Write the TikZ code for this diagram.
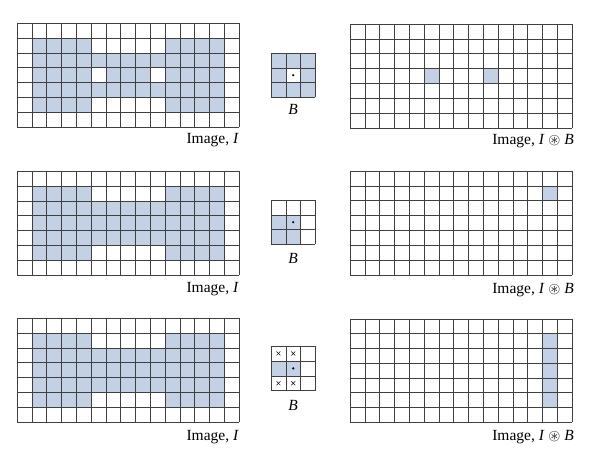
\documentclass[tikz,border=0pt]{standalone}
\usepackage{amssymb}
\usepackage{fontspec}
\setmainfont{Liberation Serif}
\definecolor{sel}{RGB}{196,208,228}
\tikzset{
  gridline/.style={draw=black!75, line width=0.6pt},
  lab/.style={font=\fontsize{15.5}{18}\selectfont, inner sep=0pt},
  cellfill/.style={fill=sel},
  xmark/.style={draw=black, line width=0.5pt},
}
\newcommand\biggrid{%
  \foreach \i in {0,...,15} \draw[gridline] (\i,0) -- (\i,7);
  \foreach \j in {0,...,7} \draw[gridline] (0,\j) -- (15,\j);}
\newcommand\smallgrid{%
  \foreach \i in {0,...,3} \draw[gridline] (\i,0) -- (\i,3);
  \foreach \j in {0,...,3} \draw[gridline] (0,\j) -- (3,\j);}
\newcommand\imageI{%
  \fill[cellfill] (1,1) rectangle (5,2);
  \fill[cellfill] (10,1) rectangle (14,2);
  \fill[cellfill] (1,2) rectangle (14,5);
  \fill[cellfill] (1,5) rectangle (5,6);
  \fill[cellfill] (10,5) rectangle (14,6);}
\newcommand\xcross[2]{%
  \draw[xmark] ({#1+0.5-0.13},{#2+0.5-0.13}) -- ({#1+0.5+0.13},{#2+0.5+0.13});
  \draw[xmark] ({#1+0.5-0.13},{#2+0.5+0.13}) -- ({#1+0.5+0.13},{#2+0.5-0.13});}
\begin{document}
\begin{tikzpicture}[x=1pt,y=-1pt]
\useasboundingbox (0,0) rectangle (600,464);
% ---------- Row 1 ----------
\begin{scope}[shift={(17pt,-23pt)},x=14.8pt,y=-14.9pt]
  \imageI
  \fill[white] (5,3) rectangle (6,4);
  \fill[white] (9,3) rectangle (10,4);
  \biggrid
\end{scope}
\begin{scope}[shift={(271pt,-53pt)},x=14.8pt,y=-14.8pt]
  \fill[cellfill] (0,0) rectangle (3,3);
  \fill[white] (1,1) rectangle (2,2);
  \smallgrid
  \fill[black] (1.5,1.5) circle[radius=1.2pt];
\end{scope}
\begin{scope}[shift={(350pt,-24pt)},x=14.8pt,y=-14.85pt]
  \fill[cellfill] (5,3) rectangle (6,4);
  \fill[cellfill] (9,3) rectangle (10,4);
  \biggrid
\end{scope}
\node[lab, anchor=base east] (l1) at (239,143) {Image, \textit{I}};
\node[lab, anchor=base] (b1) at (293,114) {\textit{B}};
\node[lab, anchor=base east] (r1) at (574,144) {Image, \textit{I} $\circledast$ \textit{B}};
% ---------- Row 2 ----------
\begin{scope}[shift={(17pt,-171pt)},x=14.8pt,y=-14.9pt]
  \imageI
  \biggrid
\end{scope}
\begin{scope}[shift={(271pt,-200pt)},x=14.8pt,y=-14.8pt]
  \fill[cellfill] (0,1) rectangle (2,3);
  \smallgrid
  \fill[black] (1.5,1.5) circle[radius=1.2pt];
\end{scope}
\begin{scope}[shift={(350pt,-171pt)},x=14.8pt,y=-14.85pt]
  \fill[cellfill] (13,1) rectangle (14,2);
  \biggrid
\end{scope}
\node[lab, anchor=base east] (l2) at (239,292.5) {Image, \textit{I}};
\node[lab, anchor=base] (b2) at (293,263) {\textit{B}};
\node[lab, anchor=base east] (r2) at (574,293) {Image, \textit{I} $\circledast$ \textit{B}};
% ---------- Row 3 ----------
\begin{scope}[shift={(17pt,-318pt)},x=14.8pt,y=-14.9pt]
  \imageI
  \biggrid
\end{scope}
\begin{scope}[shift={(271pt,-346pt)},x=14.8pt,y=-14.9pt]
  \fill[cellfill] (0,1) rectangle (2,2);
  \smallgrid
  \fill[black] (1.5,1.5) circle[radius=1.2pt];
  \xcross{0}{0}\xcross{1}{0}\xcross{0}{2}\xcross{1}{2}
\end{scope}
\begin{scope}[shift={(350pt,-319pt)},x=14.8pt,y=-14.75pt]
  \fill[cellfill] (13,1) rectangle (14,6);
  \biggrid
\end{scope}
\node[lab, anchor=base east] (l3) at (239,440) {Image, \textit{I}};
\node[lab, anchor=base] (b3) at (293,410) {\textit{B}};
\node[lab, anchor=base east] (r3) at (574,440) {Image, \textit{I} $\circledast$ \textit{B}};
\end{tikzpicture}
\end{document}
